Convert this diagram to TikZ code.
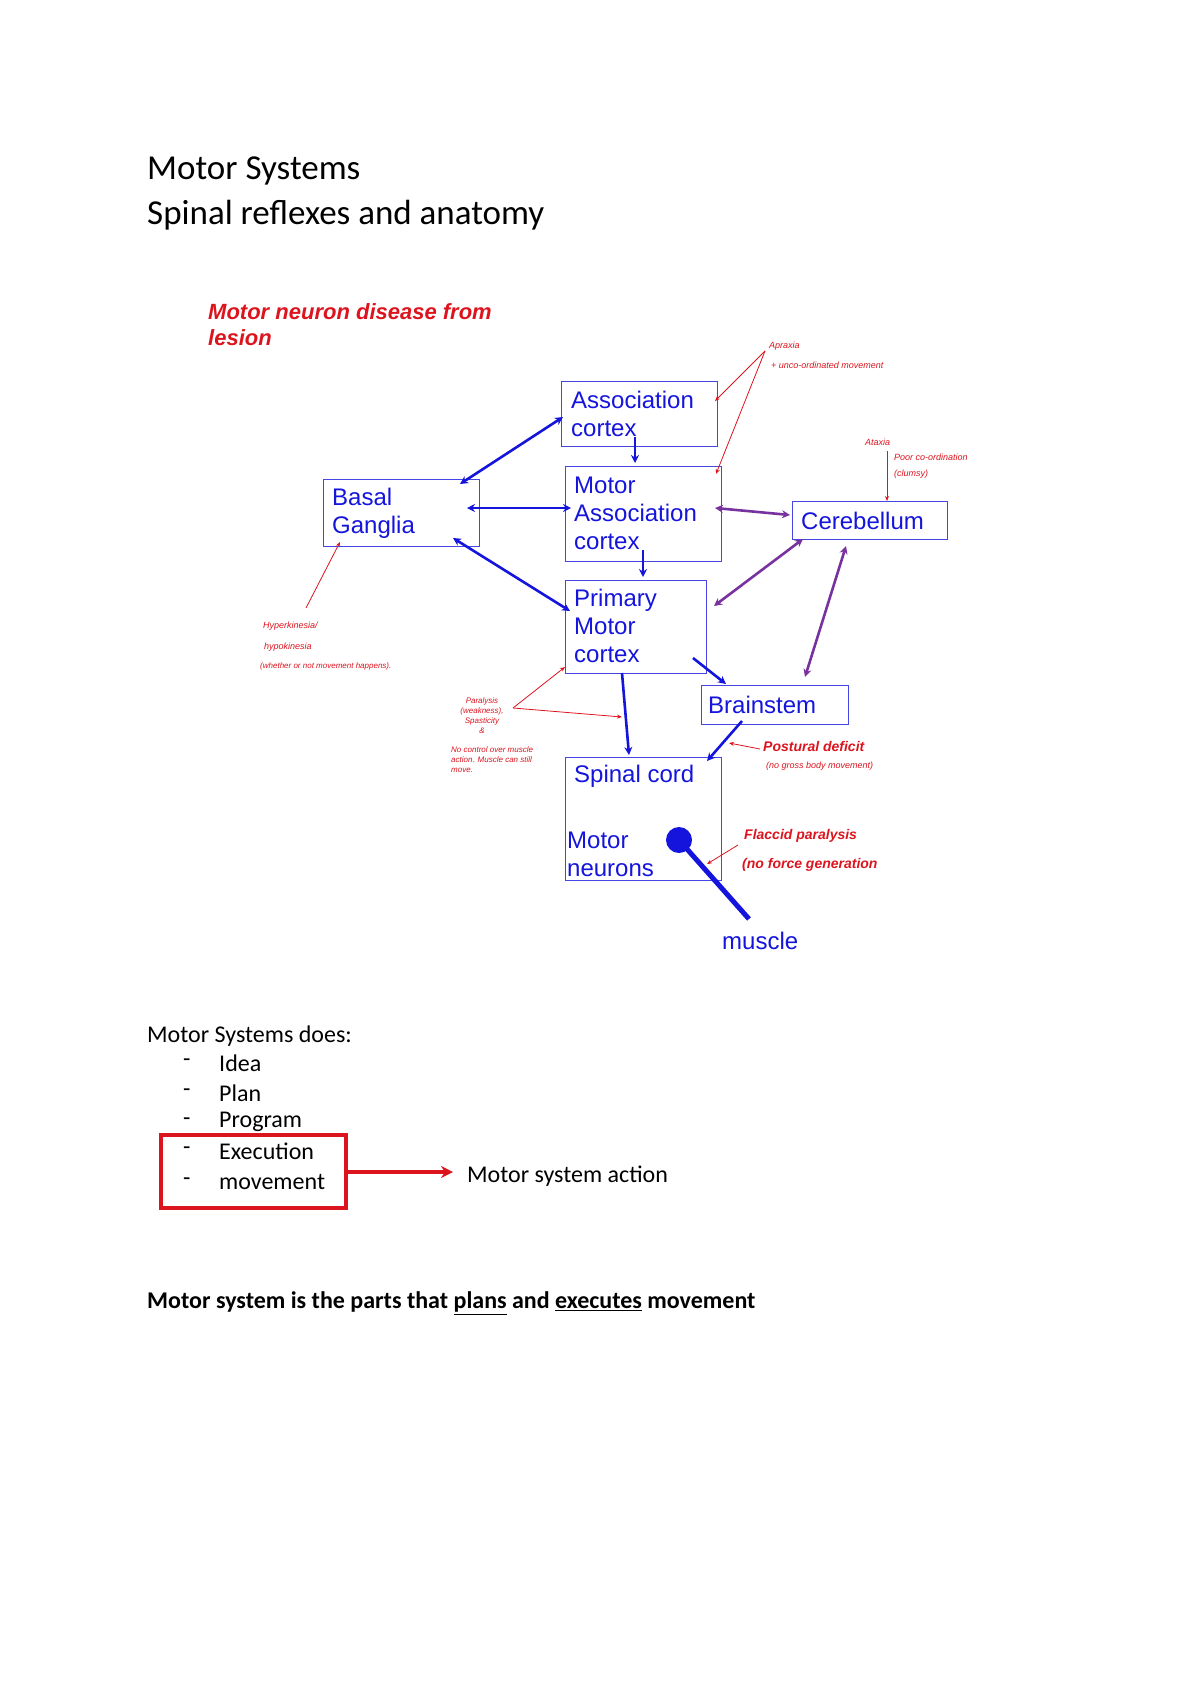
\documentclass[tikz,border=0pt]{standalone}
\usepackage{fontspec}
\setmainfont{Carlito}
\newfontfamily\arial{Liberation Sans}
\usetikzlibrary{arrows.meta}
\definecolor{bl}{RGB}{20,20,220}
\definecolor{bx}{RGB}{70,70,230}
\definecolor{pu}{RGB}{120,50,160}
\definecolor{rd}{RGB}{220,20,30}
\begin{document}
\begin{tikzpicture}[x=1pt,y=-1pt,
 box/.style={draw=bx,line width=1pt},
 lab/.style={anchor=west,inner sep=0,font=\arial\fontsize{24}{28}\selectfont,text=bl,align=left},
 ba/.style={bl,line width=2.6pt,-{Stealth[length=8pt,width=8pt]}},
 bb/.style={bl,line width=2.6pt,{Stealth[length=8pt,width=8pt]}-{Stealth[length=8pt,width=8pt]}},
 pb/.style={pu,line width=2.6pt,{Stealth[length=8pt,width=8pt]}-{Stealth[length=8pt,width=8pt]}},
 ra/.style={rd,line width=0.8pt,-{Stealth[length=5pt,width=4pt]}},
 hw/.style={anchor=west,inner sep=0,text=rd,font=\arial\itshape\fontsize{9}{11}\selectfont},
 body/.style={anchor=west,inner sep=0,font=\fontsize{24}{28}\selectfont}]
\useasboundingbox (0,0) rectangle (1200,1698);
\node[body,font=\fontsize{35}{40}\selectfont] (t1) at (147,171) {Motor Systems};
\node[body,font=\fontsize{35}{40}\selectfont] (t2) at (147,215) {Spinal reflexes and anatomy};
\begin{scope}[shift={(-4,-3)}]
% boxes
\draw[box] (565,384) rectangle (721,449);
\draw[box] (569,469) rectangle (725,564);
\draw[box] (327,482) rectangle (483,549);
\draw[box] (796,504) rectangle (951,542);
\draw[box] (569,583) rectangle (710,676);
\draw[box] (705,688) rectangle (852,727);
\draw[box] (569,760) rectangle (725,883);
\node[lab] (ac) at (575,417) {Association\\cortex};
\node[lab] (mac) at (578,516) {Motor\\Association\\cortex};
\node[lab] (bg) at (336,516) {Basal\\Ganglia};
\node[lab] (ce) at (805,524) {Cerebellum};
\node[lab] (pm) at (578,629) {Primary\\Motor\\cortex};
\node[lab] (bs) at (712,708) {Brainstem};
\node[lab] (sc) at (578,779) {Spinal cord};
\node[lab] (mn) at (571,857) {Motor\\neurons};
\fill[bl] (683,843) circle (13);
\coordinate (m1) at (683,843); \coordinate (m2) at (753,922);
\draw[bl,line width=5pt] (m1) -- (m2);
\node[lab] (mu) at (726,944) {muscle};
% arrows
\coordinate (a1) at (567,420); \coordinate (a2) at (464,487); \draw[bb] (a1)--(a2);
\coordinate (a3) at (639,440); \coordinate (a4) at (639,466); \draw[ba] (a3)--(a4);
\coordinate (a5) at (471,511); \coordinate (a6) at (575,511); \draw[bb] (a5)--(a6);
\coordinate (a7) at (457,541); \coordinate (a8) at (574,614); \draw[bb] (a7)--(a8);
\coordinate (a9) at (647,553); \coordinate (a10) at (647,580); \draw[ba] (a9)--(a10);
\coordinate (p1) at (719,511); \coordinate (p2) at (794,518); \draw[pb] (p1)--(p2);
\coordinate (p3) at (807,542); \coordinate (p4) at (718,609); \draw[pb] (p3)--(p4);
\coordinate (p5) at (850,549); \coordinate (p6) at (809,680); \draw[pb] (p5)--(p6);
\coordinate (b1) at (697,661); \coordinate (b2) at (730,687); \draw[ba] (b1)--(b2);
\coordinate (b3) at (626,676); \coordinate (b4) at (633,758); \draw[ba] (b3)--(b4);
\coordinate (b5) at (746,724); \coordinate (b6) at (711,764); \draw[ba] (b5)--(b6);
% red annotations
\node[hw,font=\arial\bfseries\itshape\fontsize{22}{26}\selectfont,align=left,anchor=north west] (mnd) at (212,306) {Motor neuron disease from\\lesion};
\node[hw] (ap1) at (773,349) {Apraxia};
\node[hw] (ap2) at (775,368) {+ unco-ordinated movement};
\coordinate (r0) at (769,354); \coordinate (r1) at (719,404); \coordinate (r2) at (720,477);
\draw[ra] (r0)--(r1); \draw[ra] (r0)--(r2);
\node[hw] (at1) at (869,445) {Ataxia};
\node[hw] (at2) at (898,460) {Poor co-ordination};
\node[hw] (at3) at (898,477) {(clumsy)};
\coordinate (r3) at (891,454); \coordinate (r4) at (891,504); \draw[ra] (r3)--(r4);
\node[hw] (hk1) at (267,629) {Hyperkinesia/};
\node[hw] (hk2) at (268,650) {hypokinesia};
\node[hw,font=\arial\itshape\fontsize{8}{10}\selectfont] (hk3) at (264,669) {(whether or not movement happens).};
\coordinate (r5) at (310,611); \coordinate (r6) at (344,545); \draw[ra] (r5)--(r6);
\node[hw,font=\arial\itshape\fontsize{8}{10}\selectfont,anchor=north,align=center] (pa) at (486,700) {Paralysis\\(weakness),\\Spasticity\\\&};
\node[hw,font=\arial\itshape\fontsize{8}{10}\selectfont,anchor=north west,align=left] (pb) at (455,749) {No control over muscle\\action. Muscle can still\\move.};
\coordinate (r7) at (517,711); \coordinate (r8) at (569,670); \coordinate (r9) at (626,720);
\draw[ra] (r7)--(r8); \draw[ra] (r7)--(r9);
\node[hw,font=\arial\bfseries\itshape\fontsize{14}{16}\selectfont] (pd1) at (767,749) {Postural deficit};
\node[hw] (pd2) at (770,769) {(no gross body movement)};
\coordinate (r10) at (764,752); \coordinate (r11) at (733,746); \draw[ra] (r10)--(r11);
\node[hw,font=\arial\bfseries\itshape\fontsize{14}{16}\selectfont] (fp1) at (748,839) {Flaccid paralysis};
\node[hw,font=\arial\bfseries\itshape\fontsize{14}{16}\selectfont] (fp2) at (746,868) {(no force generation};
\coordinate (r12) at (742,848); \coordinate (r13) at (711,867); \draw[ra] (r12)--(r13);
\end{scope}
% lower text
\node[body] (d0) at (147,1036) {Motor Systems does:};
\foreach \y/\t [count=\i] in {1063/Idea,1093/Plan,1122/Program,1151/Execution,1182/movement}{
  \node[body] (dd\i) at (183,\y) {-};
  \node[body] (dt\i) at (219,\y) {\t};
}
\draw[rd,line width=4pt] (161,1135) rectangle (346,1208);
\coordinate (q1) at (346,1172); \coordinate (q2) at (453,1172);
\draw[rd,line width=4pt,-{Stealth[length=12pt,width=12pt]}] (q1)--(q2);
\node[body] (msa) at (467,1176) {Motor system action};
\node[body,font=\bfseries\fontsize{24}{28}\selectfont] (bs2) at (147,1303) {Motor system is the parts that \underline{plans} and \underline{executes} movement};
\end{tikzpicture}
\end{document}
